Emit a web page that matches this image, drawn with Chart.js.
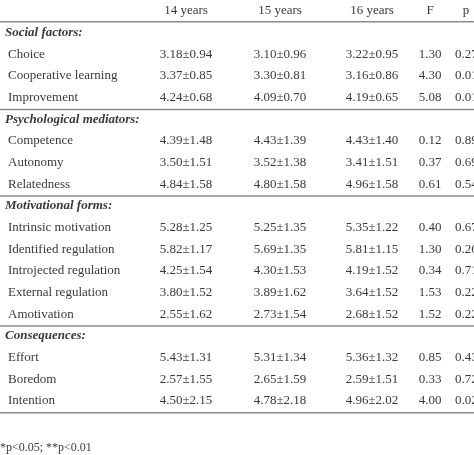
<!DOCTYPE html>
<html><head><meta charset="utf-8">
<script src="https://cdn.jsdelivr.net/npm/chart.js@4/dist/chart.umd.min.js"></script>
<style>html,body{margin:0;padding:0;background:#fff}#w{width:474px;height:455px}</style>
</head><body><div id="w"><canvas id="c"></canvas></div>
<script>
const headers = ["14 years","15 years","16 years","F","p"];
const sections = ["Social factors:","Psychological mediators:","Motivational forms:","Consequences:"];
const sectionItems = [
  ["Choice","Cooperative learning","Improvement"],
  ["Competence","Autonomy","Relatedness"],
  ["Intrinsic motivation","Identified regulation","Introjected regulation","External regulation","Amotivation"],
  ["Effort","Boredom","Intention"]
];
const m14 = ["3.18±0.94","3.37±0.85","4.24±0.68","4.39±1.48","3.50±1.51","4.84±1.58","5.28±1.25","5.82±1.17","4.25±1.54","3.80±1.52","2.55±1.62","5.43±1.31","2.57±1.55","4.50±2.15"];
const m15 = ["3.10±0.96","3.30±0.81","4.09±0.70","4.43±1.39","3.52±1.38","4.80±1.58","5.25±1.35","5.69±1.35","4.30±1.53","3.89±1.62","2.73±1.54","5.31±1.34","2.65±1.59","4.78±2.18"];
const m16 = ["3.22±0.95","3.16±0.86","4.19±0.65","4.43±1.40","3.41±1.51","4.96±1.58","5.35±1.22","5.81±1.15","4.19±1.52","3.64±1.52","2.68±1.52","5.36±1.32","2.59±1.51","4.96±2.02"];
const Fv = ["1.30","4.30","5.08","0.12","0.37","0.61","0.40","1.30","0.34","1.53","1.52","0.85","0.33","4.00"];
const pv = ["0.27","0.01","0.01","0.89","0.69","0.54","0.67","0.26","0.71","0.22","0.22","0.43","0.72","0.02"];
const footnote = "*p<0.05; **p<0.01";

const colX = [186, 280, 372, 430, 466];
const tablePlugin = {
  id:'table',
  afterDraw(chart){
    const ctx = chart.ctx, xs = chart.scales.x, ys = chart.scales.y;
    ctx.save();
    ctx.fillStyle = '#3a3a3a';
    ctx.textBaseline = 'middle';
    const font = '13px "Liberation Serif", "DejaVu Serif", serif';
    const line = (r) => { ctx.strokeStyle='#8a8a8a'; ctx.lineWidth=1.5; const y=ys.getPixelForValue(r); ctx.beginPath(); ctx.moveTo(0,y); ctx.lineTo(474,y); ctx.stroke(); };
    ctx.font = font; ctx.textAlign='center';
    headers.forEach((h,i)=>ctx.fillText(h, xs.getPixelForValue(colX[i]), ys.getPixelForValue(0)));
    line(0.5);
    let r = 1, k = 0;
    sections.forEach((s,si)=>{
      ctx.font = 'italic bold 13px "Liberation Serif", "DejaVu Serif", serif'; ctx.textAlign='left';
      ctx.fillText(s, xs.getPixelForValue(5), ys.getPixelForValue(r)); r++;
      sectionItems[si].forEach(it=>{
        const y = ys.getPixelForValue(r);
        ctx.font = font; ctx.textAlign='left';
        ctx.fillText(it, xs.getPixelForValue(8), y);
        ctx.textAlign='center';
        [m14[k],m15[k],m16[k],Fv[k]].forEach((v,j)=>ctx.fillText(v, xs.getPixelForValue(colX[j]), y));
        ctx.textAlign='left';
        ctx.fillText(pv[k], xs.getPixelForValue(455), y);
        k++; r++;
      });
      line(r-0.45);
    });
    ctx.font = '12px "Liberation Serif", "DejaVu Serif", serif'; ctx.textAlign='left';
    ctx.fillText(footnote, xs.getPixelForValue(0), ys.getPixelForValue(20.15));
    ctx.restore();
  }
};
new Chart(document.getElementById('c'), {
  type:'scatter',
  data:{datasets:[]},
  options:{
    responsive:true, maintainAspectRatio:false, animation:false,
    layout:{padding:0},
    plugins:{legend:{display:false},tooltip:{enabled:false}},
    scales:{
      x:{type:'linear',min:0,max:474,display:false},
      y:{type:'linear',min:-0.5,max:20.5,reverse:true,display:false}
    }
  },
  plugins:[tablePlugin]
});
</script></body></html>
